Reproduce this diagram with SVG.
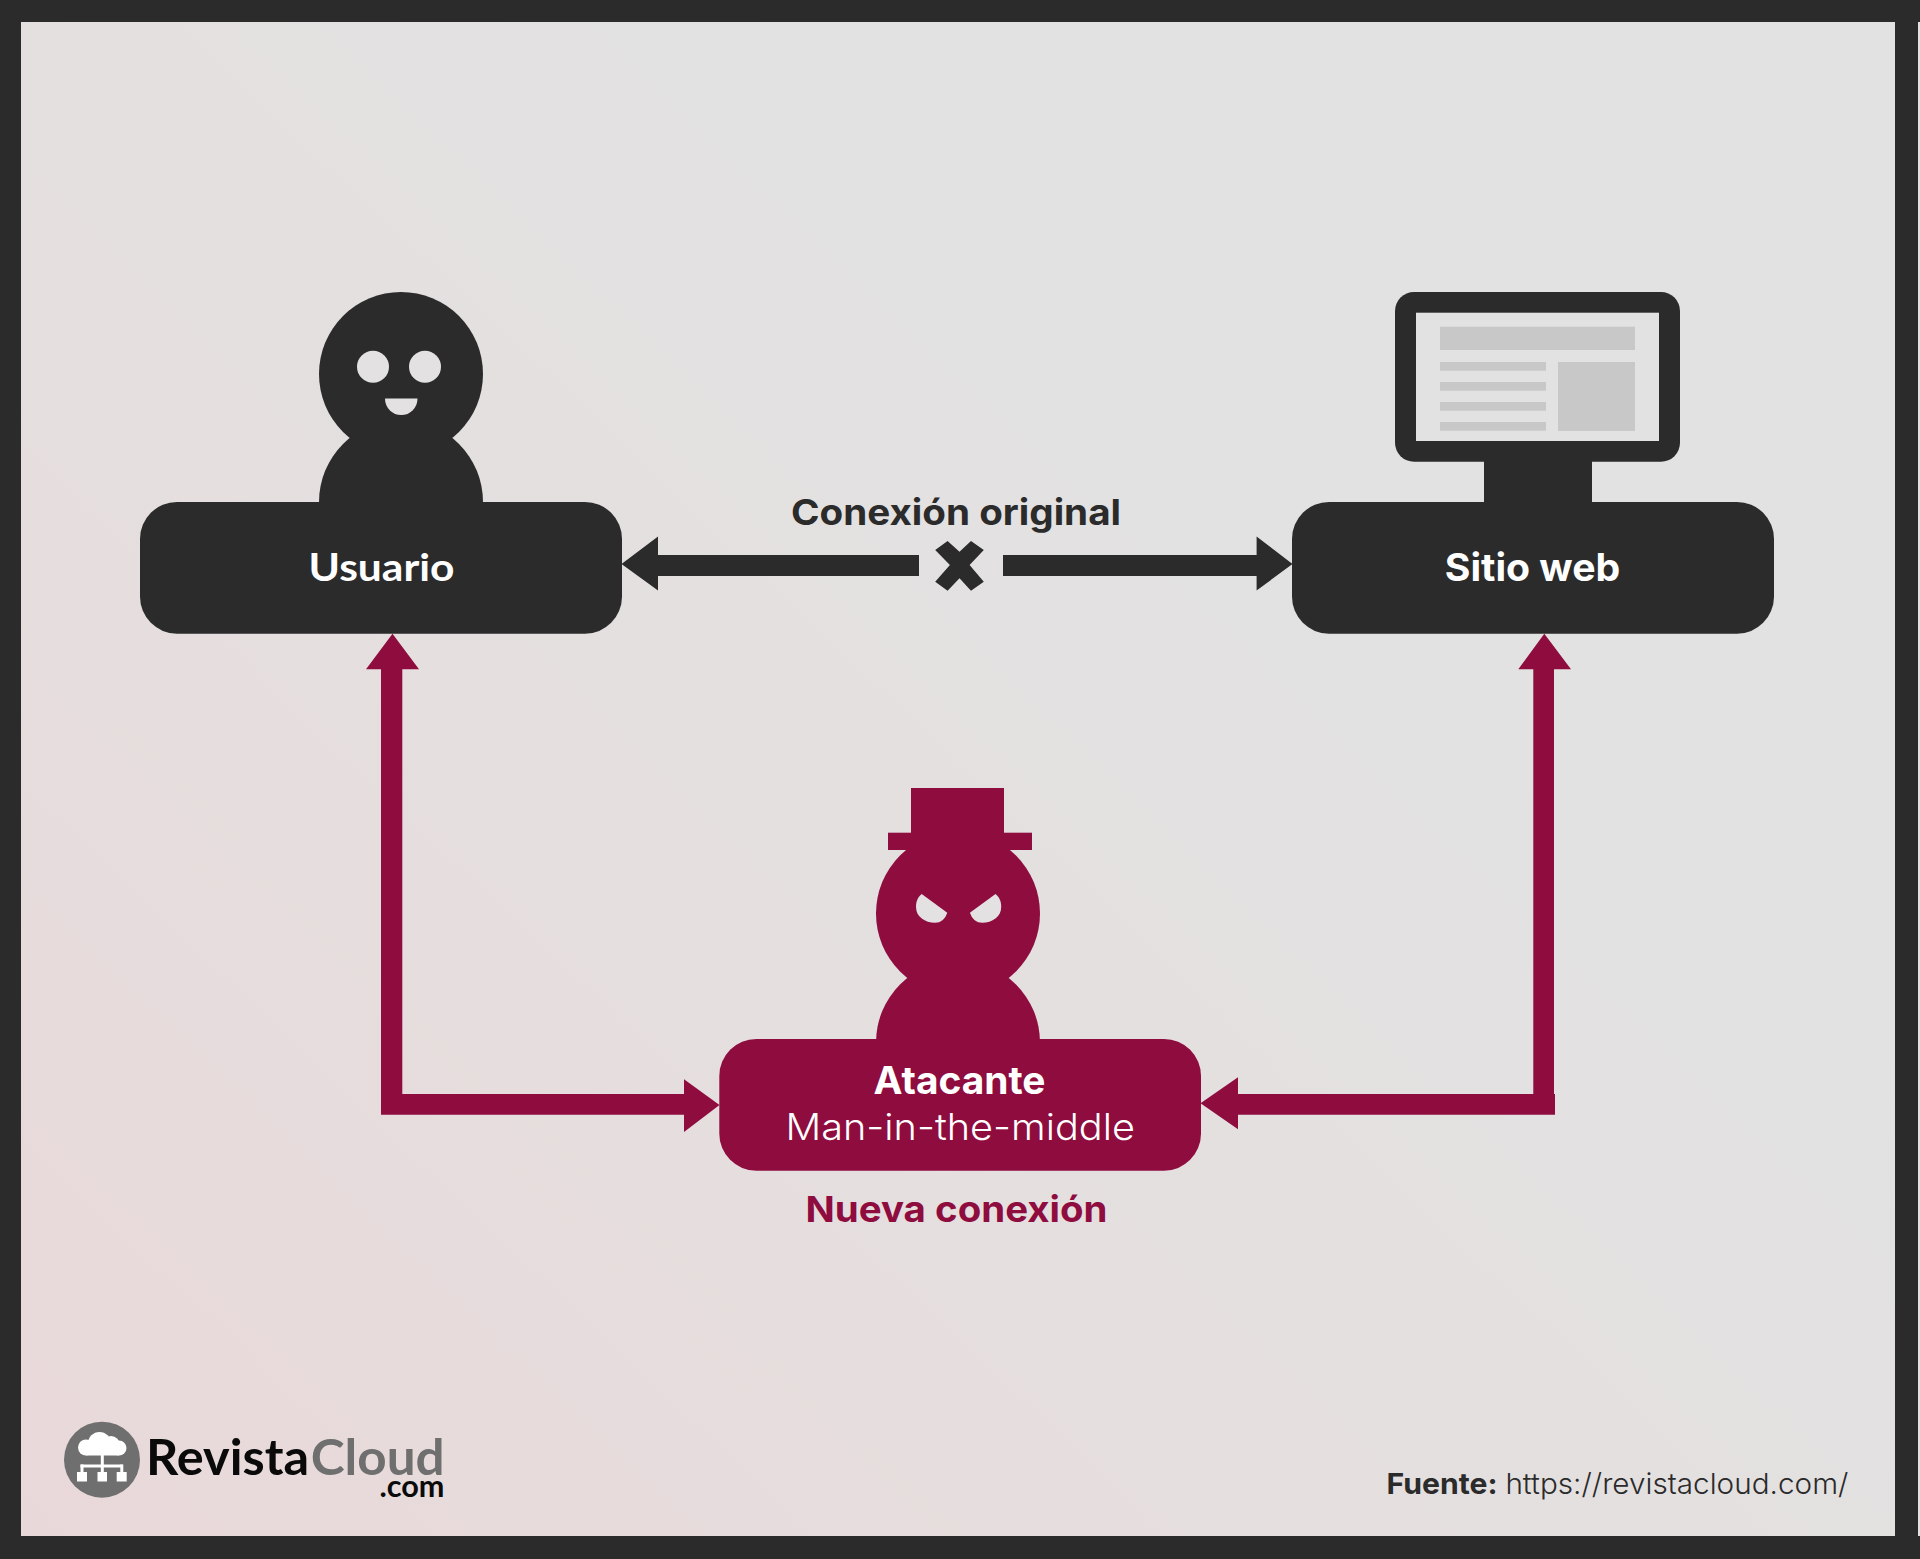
<svg xmlns="http://www.w3.org/2000/svg" width="1920" height="1559" viewBox="0 0 1920 1559">
<style>
.dark{fill:#2b2b2b}
.red{fill:#8e0c3e}
.eye{fill:#e3e1e1}
.grey{fill:#c8c8c8}
text{font-family:"Inter","Liberation Sans",sans-serif}
.w{fill:#fff;font-weight:700;font-size:38px}
.nun{font-family:"Lato","Noto Sans",sans-serif}
</style>
<defs>
<linearGradient id="bg" gradientUnits="userSpaceOnUse" x1="21" y1="1536" x2="1150" y2="350">
<stop offset="0" stop-color="#e9d8d9"/><stop offset="0.55" stop-color="#e5dfdf"/><stop offset="1" stop-color="#e2e2e2"/>
</linearGradient>
</defs>
<rect width="1920" height="1559" class="dark"/>
<rect x="21" y="22" width="1874" height="1514" fill="url(#bg)"/>
<rect x="1918" y="22" width="2" height="1514" fill="#e2e2e2"/>

<g id="connectors">
<g id="conn-original" class="dark">
<polygon points="621.5,564 658,536.5 658,555 919,555 919,576 658,576 658,590.5"/>
<polygon points="1292.5,564 1256.6,536.5 1256.6,555 1003,555 1003,576 1256.6,576 1256.6,590.5"/>
<polygon id="cross" points="935.2,550 947.6,541 959.5,551.7 971,541 983.8,550 969.6,565 983.8,581.7 971,590.7 959.5,578.3 947.6,590.7 935.2,581.7 949.9,565"/>
</g>
<polygon id="conn-user" class="red" points="392.5,633.7 419,669.3 402.3,669.3 402.3,1094 684,1094 684,1079.3 719.5,1105 684,1132 684,1114.7 381,1114.7 381,669.3 366,669.3"/>
<polygon id="conn-web" class="red" points="1544.3,633.7 1571,669.3 1554,669.3 1554,1094 1555,1094 1555,1114.7 1238,1114.7 1238,1129.3 1200.5,1103.3 1238,1077.3 1238,1094 1533.3,1094 1533.3,669.3 1518.3,669.3"/>
</g>

<g id="node-usuario">
<circle cx="401" cy="374" r="82" class="dark"/>
<circle cx="401" cy="502" r="82" class="dark"/>
<circle cx="373" cy="366.7" r="16" class="eye"/>
<circle cx="425" cy="366.7" r="16" class="eye"/>
<path d="M385 398.5H417.5A16.2 16.5 0 0 1 385 398.5Z" class="eye"/>
<rect x="140" y="502" width="482" height="131.7" rx="37" class="dark"/>
<text x="308.5" y="581" class="w nun" textLength="146" lengthAdjust="spacingAndGlyphs">Usuario</text>
</g>

<g id="node-sitio-web">
<rect x="1484" y="440" width="108" height="80" class="dark"/>
<rect x="1395" y="292" width="285" height="169.7" rx="19" class="dark"/>
<rect x="1416" y="312.7" width="243" height="128.3" fill="#e2e2e2"/>
<rect x="1440" y="326.7" width="195" height="23.3" class="grey"/>
<rect x="1440" y="362" width="106" height="8.7" class="grey"/>
<rect x="1440" y="382" width="106" height="8.7" class="grey"/>
<rect x="1440" y="402" width="106" height="8.7" class="grey"/>
<rect x="1440" y="422" width="106" height="8.7" class="grey"/>
<rect x="1558" y="362" width="77" height="69" class="grey"/>
<rect x="1292" y="502" width="482" height="131.7" rx="37" class="dark"/>
<text x="1444.7" y="581" class="w" textLength="175.6" lengthAdjust="spacingAndGlyphs">Sitio web</text>
</g>

<g id="node-atacante">
<circle cx="958" cy="913.5" r="82" class="red"/>
<circle cx="958" cy="1042.5" r="82" class="red"/>
<rect x="911" y="788" width="93" height="50" class="red"/>
<rect x="888" y="832.7" width="144" height="17.3" class="red"/>
<path d="M921.7 894L947.3 912.7Q944 922.7 935 922.7C925 922.7 916 917 916 907C916 901 918 897 921.7 894Z" class="eye"/>
<path d="M995.5 894L969.9 912.7Q973.2 922.7 982.2 922.7C992.2 922.7 1001.2 917 1001.2 907C1001.2 901 999.2 897 995.5 894Z" class="eye"/>
<rect x="719.3" y="1039" width="481.7" height="131.7" rx="37" class="red"/>
<text x="873.5" y="1094" class="w" textLength="172" lengthAdjust="spacingAndGlyphs">Atacante</text>
<text x="785.5" y="1140" fill="#fff" font-size="37" font-weight="300" textLength="349.5" lengthAdjust="spacingAndGlyphs">Man-in-the-middle</text>
</g>

<text id="label-original" x="791" y="525" class="dark" font-size="36" font-weight="650" textLength="330" lengthAdjust="spacingAndGlyphs">Conexión original</text>
<text id="label-nueva" x="805.5" y="1222" class="red" font-size="36" font-weight="700" textLength="302" lengthAdjust="spacingAndGlyphs">Nueva conexión</text>

<g id="logo">
<circle cx="102" cy="1459.7" r="38" fill="#6f6f6f"/>
<g fill="#fff">
<circle cx="86" cy="1447.5" r="8"/>
<circle cx="99.5" cy="1443.5" r="11.5"/>
<circle cx="111" cy="1445" r="9"/>
<circle cx="119" cy="1448" r="7.5"/>
<rect x="86" y="1446" width="33" height="9.5"/>
<rect x="100.8" y="1455" width="3" height="18"/>
<rect x="80.5" y="1464.5" width="42" height="3"/>
<rect x="80.5" y="1464.5" width="3" height="8"/>
<rect x="120.3" y="1464.5" width="3" height="8"/>
<rect x="77" y="1472" width="10" height="9.5"/>
<rect x="97.5" y="1472" width="9.5" height="9.5"/>
<rect x="116.7" y="1472" width="10" height="9.5"/>
</g>
<text x="146" y="1475" class="nun" font-size="50" font-weight="700" fill="#0a0a0a" textLength="163" lengthAdjust="spacingAndGlyphs">Revista</text>
<text x="310.7" y="1475" class="nun" font-size="50" font-weight="700" fill="#6f6f6f" textLength="134" lengthAdjust="spacingAndGlyphs">Cloud</text>
<text x="379.5" y="1496.7" class="nun" font-size="30" font-weight="700" fill="#0a0a0a" textLength="65" lengthAdjust="spacingAndGlyphs">.com</text>
</g>

<text id="fuente" y="1494" class="dark" font-size="29"><tspan x="1386.5" font-weight="700" textLength="111" lengthAdjust="spacingAndGlyphs">Fuente:</tspan><tspan x="1505.4" font-weight="300" textLength="343" lengthAdjust="spacingAndGlyphs">https://revistacloud.com/</tspan></text>
</svg>
